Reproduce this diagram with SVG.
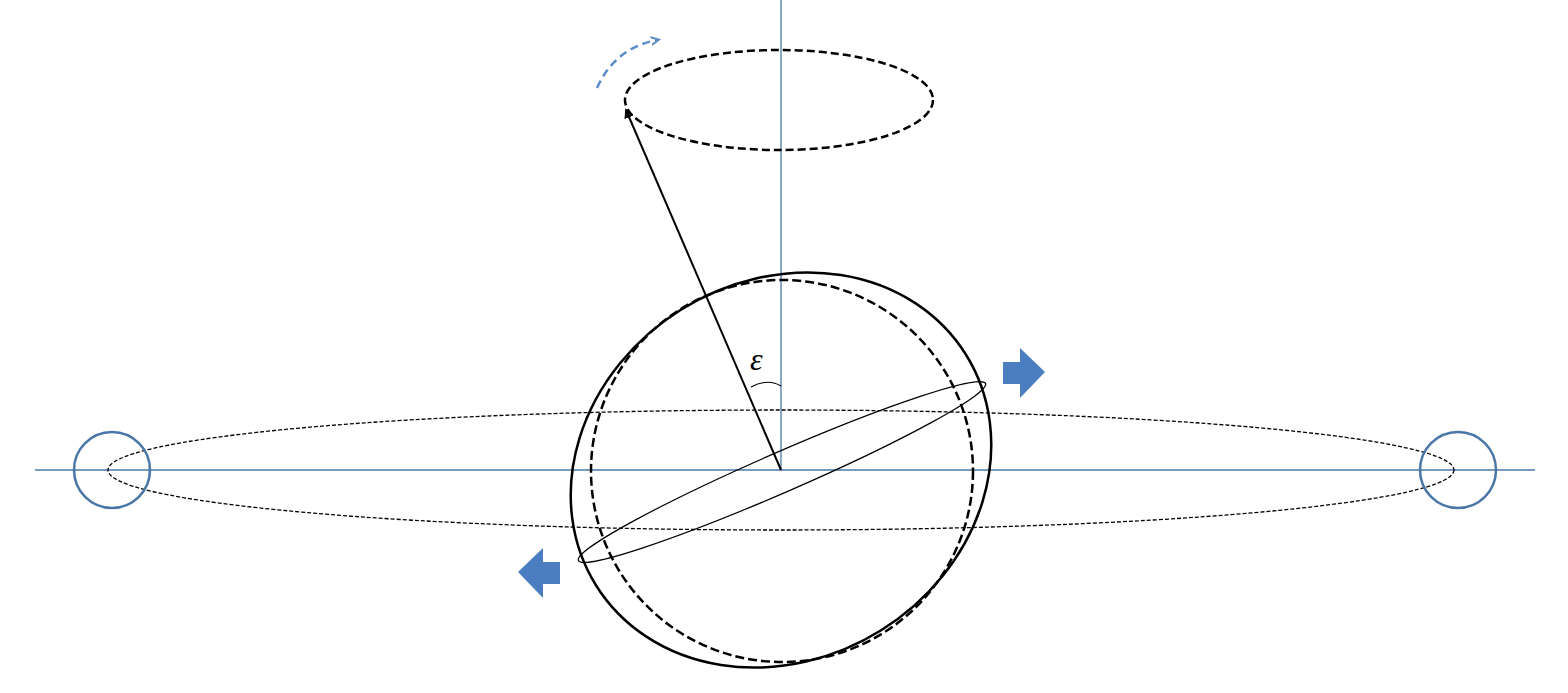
<svg xmlns="http://www.w3.org/2000/svg" width="1568" height="693" viewBox="0 0 1568 693">
<style>
.ax{stroke:#4a77a8;stroke-width:1.3;fill:none}
.blk{stroke:#000;fill:none}
.blue{fill:#4a7ec0}
</style>
<defs>
<marker id="ah" markerWidth="10" markerHeight="10" refX="8" refY="5" orient="auto" markerUnits="userSpaceOnUse"><path d="M0,0 L10,5 L0,10 z" fill="#000"/></marker>
<marker id="bh" markerWidth="10" markerHeight="10" refX="6" refY="5" orient="auto" markerUnits="userSpaceOnUse"><path d="M0,1 L8,5 L0,9" fill="none" stroke="#5a8cc8" stroke-width="2"/></marker>
</defs>
<rect width="1568" height="693" fill="#fff"/>
<g id="axes">
<line class="ax" x1="781" y1="0" x2="781" y2="470"/>
<line class="ax" x1="35" y1="470" x2="1535" y2="470"/>
</g>
<g id="orbit"><ellipse class="blk" cx="781" cy="470" rx="673" ry="60" stroke-width="1.3" stroke-dasharray="4,2"/></g>
<g id="sun-left"><circle cx="112" cy="470" r="38" fill="none" stroke="#4a77a8" stroke-width="2.5"/></g>
<g id="sun-right"><circle cx="1458" cy="470" r="38" fill="none" stroke="#4a77a8" stroke-width="2.5"/></g>
<g id="precession"><ellipse class="blk" cx="779" cy="100" rx="154" ry="50" stroke-width="2.5" stroke-dasharray="8,4"/></g>
<g id="earth-dashed"><circle class="blk" cx="782" cy="471" r="191" stroke-width="2.5" stroke-dasharray="9,4"/></g>
<g id="earth"><ellipse class="blk" cx="781" cy="470" rx="218" ry="189" transform="rotate(-32 781 470)" stroke-width="2.5"/></g>
<g id="equator"><ellipse class="blk" cx="782" cy="472" rx="222" ry="20" transform="rotate(-23.5 782 472)" stroke-width="1.2"/></g>
<g id="connectors">
<line class="blk" x1="781" y1="470" x2="626" y2="110" stroke-width="2" marker-end="url(#ah)"/>
<path d="M597,88 Q615,48 657,40" fill="none" stroke="#5a8cc8" stroke-width="2.5" stroke-dasharray="8,5" marker-end="url(#bh)"/>
<path class="blk" d="M751,387 Q768,378 781,386" stroke-width="1.2"/>
</g>
<g id="epsilon"><text x="750" y="370" font-family="Liberation Serif, serif" font-style="italic" font-size="32">ε</text></g>
<g id="arrow-right"><path class="blue" d="M1003,362 h17 v-14 l25,24 l-25,26 v-14 h-17 z"/></g>
<g id="arrow-left"><path class="blue" d="M560,562 h-17 v-14 l-25,24 l25,26 v-14 h17 z"/></g>
</svg>
